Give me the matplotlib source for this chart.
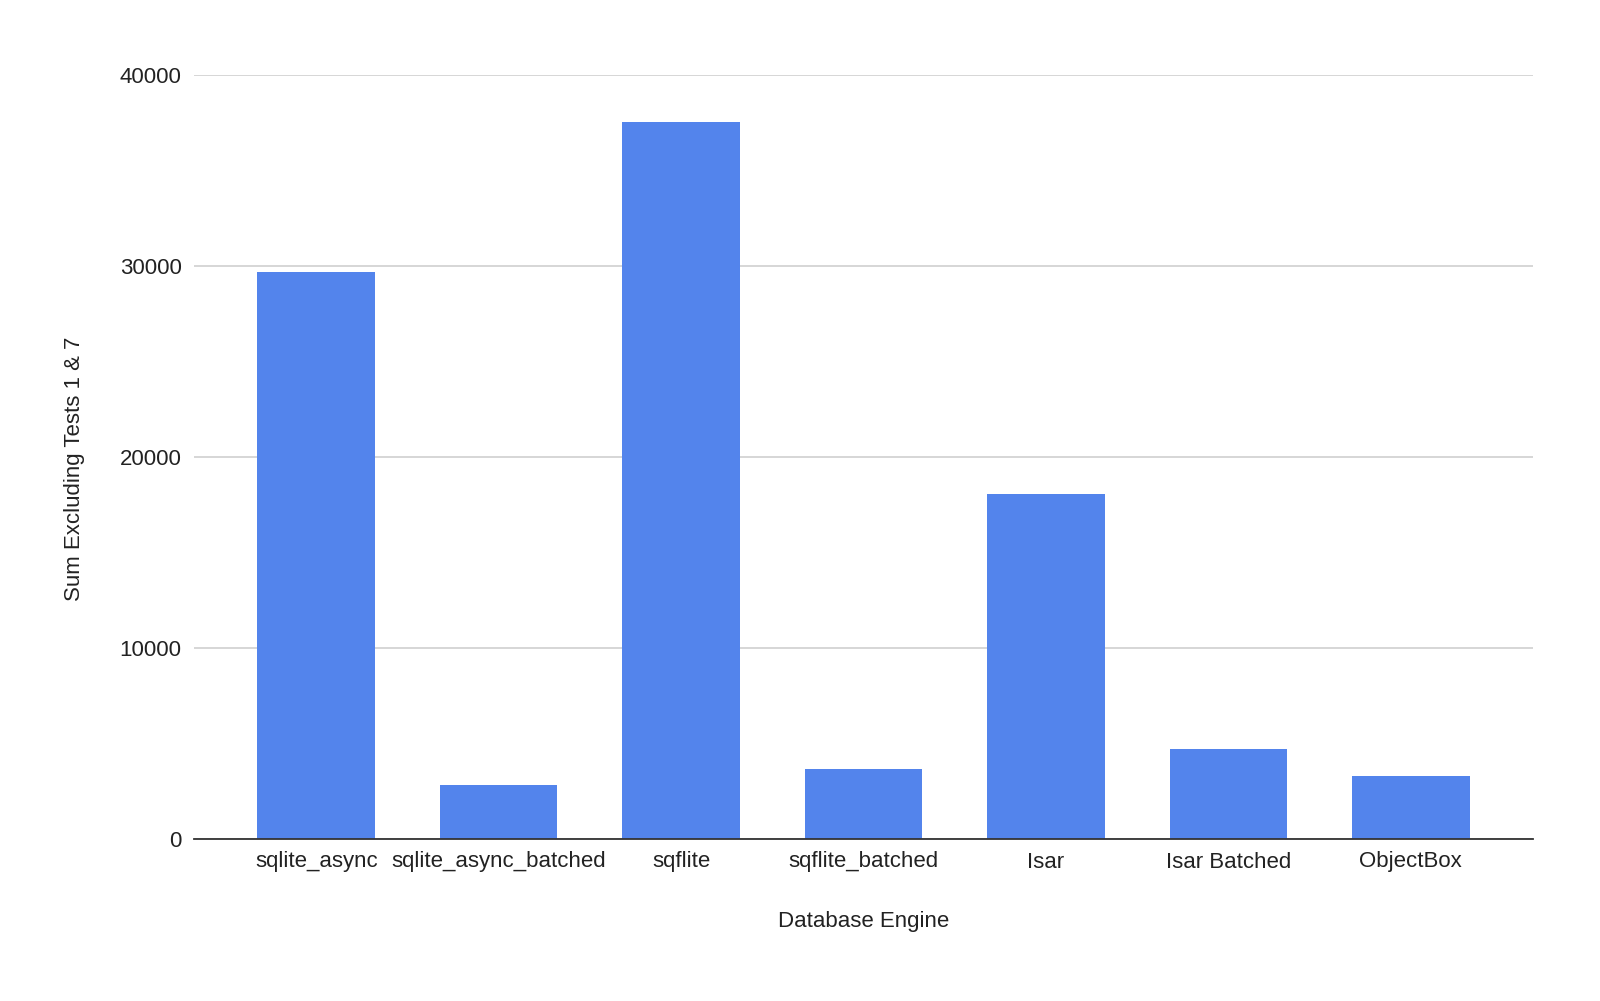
import matplotlib
matplotlib.use("Agg")
import matplotlib.pyplot as plt

categories = ["sqlite_async", "sqlite_async_batched", "sqflite", "sqflite_batched",
              "Isar", "Isar Batched", "ObjectBox"]
values = [29700, 2850, 37550, 3650, 18050, 4700, 3300]
yticks = [0, 10000, 20000, 30000, 40000]

plt.rcParams['font.family'] = ['Liberation Sans', 'DejaVu Sans']

W, H = 1600, 1001
fig = plt.figure(figsize=(W/100, H/100), dpi=100)
left, right, top, bottom = 194, 1533, 75, 839
ax = fig.add_axes([left/W, (H-bottom)/H, (right-left)/W, (bottom-top)/H])

x = list(range(len(categories)))
ax.bar(x, values, width=0.645, color='#5384ec', zorder=3)

ax.set_xlim(-0.67, len(categories) - 1 + 0.67)
ax.set_ylim(0, 40000)
ax.set_yticks(yticks)
ax.set_yticklabels([str(t) for t in yticks])
ax.set_xticks(x)
ax.set_xticklabels(categories)

ax.grid(axis='y', color='#d3d3d3', linewidth=1.3, zorder=0)
ax.set_axisbelow(True)
for s in ['top', 'right', 'left']:
    ax.spines[s].set_visible(False)
ax.spines['bottom'].set_color('#333333')
ax.spines['bottom'].set_linewidth(1.3)
ax.spines['bottom'].set_zorder(4)
ax.tick_params(axis='both', length=0, labelsize=16, colors='#222222')
ax.tick_params(axis='x', pad=9)
ax.tick_params(axis='y', pad=9)

fig.text((left+right)/2/W, (H-921)/H, "Database Engine", fontsize=16,
         color='#222222', ha='center', va='center')
fig.text(74.5/W, (H-469)/H, "Sum Excluding Tests 1 & 7", fontsize=16,
         color='#222222', ha='center', va='center', rotation=90)

fig.savefig("out.png", dpi=100, facecolor='white')
